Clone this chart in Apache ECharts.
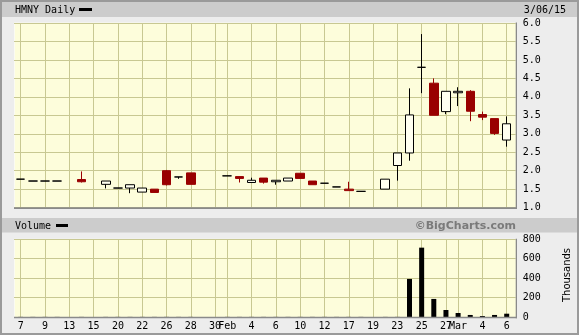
<!DOCTYPE html>
<html><head><meta charset="utf-8">
<script src="https://cdn.jsdelivr.net/npm/echarts@6/dist/echarts.min.js"></script>
<style>html,body{margin:0;padding:0;background:#ededed;}#c{width:579px;height:335px;}</style>
</head><body><div id="c"></div>
<script>
// ---- data ----
const dates = ['1/7','1/8','1/9','1/12','1/13','1/14','1/15','1/16','1/20','1/21','1/22','1/23','1/26','1/27','1/28','1/29','1/30',
  '2/2','2/3','2/4','2/5','2/6','2/9','2/10','2/11','2/12','2/13','2/17','2/18','2/19','2/20','2/23','2/24','2/25','2/26','2/27',
  '3/2','3/3','3/4','3/5','3/6'];
const tickLabels = ['7','','9','','13','','15','','20','','22','','26','','28','','30','Feb','','4','','6','','10','','12','','17','','19','','23','','25','','27','Mar','','4','','6'];
const opens  = [1.77,1.72,1.72,1.72,null,1.76,null,1.63,1.53,1.53,1.42,1.50,2.00,1.83,1.94,null,null,1.86,1.84,1.68,1.80,1.70,1.72,1.93,1.72,1.66,1.56,1.50,1.44,null,1.50,2.14,2.48,4.80,4.37,3.60,4.11,4.15,3.52,3.41,2.83];
const closes = [1.77,1.72,1.72,1.72,null,1.70,null,1.72,1.53,1.62,1.53,1.41,1.62,1.83,1.63,null,null,1.86,1.79,1.74,1.69,1.74,1.80,1.79,1.62,1.66,1.56,1.46,1.44,null,1.77,2.48,3.51,4.80,3.50,4.15,4.15,3.61,3.45,3.01,3.27];
const lows   = [1.77,1.72,1.72,1.72,null,1.68,null,1.52,1.53,1.39,1.42,1.41,1.60,1.78,1.63,null,null,1.86,1.68,1.68,1.65,1.62,1.72,1.79,1.62,1.66,1.56,1.46,1.44,null,1.50,1.73,2.27,4.10,3.50,3.53,3.75,3.34,3.37,2.97,2.65];
const highs  = [1.77,1.72,1.72,1.72,null,1.98,null,1.72,1.53,1.62,1.53,1.50,2.02,1.83,1.94,null,null,1.86,1.84,1.81,1.80,1.74,1.80,1.93,1.72,1.66,1.56,1.70,1.44,null,1.77,2.48,4.23,5.70,4.50,4.15,4.26,4.18,3.60,3.41,3.47];
const volumes = [1,1,1,1,0,1,0,1,1,1,1,1,1,1,1,0,0,1,1,1,1,1,1,1,1,1,1,1,1,0,1,1,392,714,186,72,41,21,10,21,34];
const priceRange = [1, 6, 0.5];
const volumeRange = [0, 800, 200];

// ---- style ----
const FONT = '"DejaVu Sans Mono", monospace';
const GRID = '#c8c892';
const PLOT = '#fdfddb';
const showTick = (i) => tickLabels[i] !== '';

const candleData = dates.map((d, i) => opens[i] == null ? ['-','-','-','-'] : [opens[i], closes[i], lows[i], highs[i]]);

const chart = echarts.init(document.getElementById('c'), null, {renderer: 'canvas'});
const labelStyle = {fontFamily: FONT, fontSize: 10, color: '#000'};

chart.setOption({
  animation: false,
  backgroundColor: '#ededed',
  grid: [
    {left: 14, top: 23, width: 501.7, height: 184.6},
    {left: 20.7, top: 23, width: 486, height: 184.6},
    {left: 14, top: 239.3, width: 501.7, height: 77.7},
    {left: 20.7, top: 239.3, width: 486, height: 77.7}
  ],
  xAxis: [
    {gridIndex: 0, type: 'value', show: false, min: 0, max: 1},
    {gridIndex: 1, type: 'category', data: dates, boundaryGap: false,
     axisLine: {show: false}, axisTick: {show: false}, axisLabel: {show: false},
     splitLine: {show: true, interval: showTick, lineStyle: {color: GRID, width: 1}}},
    {gridIndex: 2, type: 'value', show: false, min: 0, max: 1},
    {gridIndex: 3, type: 'category', data: dates, boundaryGap: false,
     axisLine: {show: false}, axisTick: {show: false},
     axisLabel: Object.assign({interval: showTick, formatter: (v, i) => tickLabels[i], margin: 4, hideOverlap: false}, labelStyle),
     splitLine: {show: true, interval: showTick, lineStyle: {color: GRID, width: 1}}}
  ],
  yAxis: [
    {gridIndex: 0, type: 'value', position: 'right', min: priceRange[0], max: priceRange[1], interval: priceRange[2],
     axisLine: {show: false}, axisTick: {show: false},
     axisLabel: Object.assign({margin: 7, formatter: v => v.toFixed(1)}, labelStyle),
     splitLine: {show: true, lineStyle: {color: GRID, width: 1}}},
    {gridIndex: 1, type: 'value', show: false, min: priceRange[0], max: priceRange[1], splitLine: {show: false}},
    {gridIndex: 2, type: 'value', position: 'right', min: volumeRange[0], max: volumeRange[1], interval: volumeRange[2],
     axisLine: {show: false}, axisTick: {show: false},
     axisLabel: Object.assign({margin: 7}, labelStyle),
     splitLine: {show: true, lineStyle: {color: GRID, width: 1}}},
    {gridIndex: 3, type: 'value', show: false, min: volumeRange[0], max: volumeRange[1], splitLine: {show: false}}
  ],
  series: [
    {type: 'candlestick', xAxisIndex: 1, yAxisIndex: 1, barWidth: 9, clip: false,
     itemStyle: {color: '#fffff0', color0: '#990000', borderColor: '#000000', borderColor0: '#990000', borderColorDoji: '#000000', borderWidth: 1},
     data: candleData},
    {type: 'bar', xAxisIndex: 3, yAxisIndex: 3, barWidth: 5, clip: false,
     itemStyle: {color: '#000'}, data: volumes}
  ],
  graphic: [
    {type: 'rect', z: -30, shape: {x: 0, y: 0, width: 579, height: 335}, style: {fill: '#9a9a9a'}},
    {type: 'rect', z: -29, shape: {x: 2, y: 2, width: 575, height: 331}, style: {fill: '#ededed'}},
    {type: 'rect', z: -28, shape: {x: 2, y: 2, width: 575, height: 15}, style: {fill: '#cccccc'}},
    {type: 'rect', z: -28, shape: {x: 2, y: 218, width: 575, height: 14.5}, style: {fill: '#cccccc'}},
    {type: 'rect', z: -27, shape: {x: 14, y: 22.5, width: 502, height: 185.5}, style: {fill: '#fbfbf2'}},
    {type: 'rect', z: -26, shape: {x: 15, y: 23.5, width: 501, height: 184.5}, style: {fill: PLOT}},
    {type: 'rect', z: -27, shape: {x: 14, y: 238.8, width: 502, height: 78.5}, style: {fill: '#fbfbf2'}},
    {type: 'rect', z: -26, shape: {x: 15, y: 239.8, width: 501, height: 77.5}, style: {fill: PLOT}},
    {type: 'rect', z: 50, shape: {x: 14, y: 207.3, width: 503, height: 1.7}, style: {fill: '#8a8a8a'}},
    {type: 'rect', z: 50, shape: {x: 515.7, y: 22.5, width: 1.3, height: 186.5}, style: {fill: '#8a8a8a'}},
    {type: 'rect', z: 50, shape: {x: 14, y: 316.7, width: 503, height: 1.6}, style: {fill: '#8a8a8a'}},
    {type: 'rect', z: 50, shape: {x: 515.7, y: 238.8, width: 1.3, height: 79.5}, style: {fill: '#8a8a8a'}},
    {type: 'text', z: 50, style: {text: 'HMNY Daily', x: 15, y: 10, font: '10px ' + FONT, fill: '#000', align: 'left', verticalAlign: 'middle', textAlign: 'left', textVerticalAlign: 'middle'}},
    {type: 'rect', z: 50, shape: {x: 79, y: 8, width: 13, height: 3}, style: {fill: '#000'}},
    {type: 'text', z: 50, style: {text: '3/06/15', x: 566, y: 10, font: '10px ' + FONT, fill: '#000', align: 'right', verticalAlign: 'middle', textAlign: 'right', textVerticalAlign: 'middle'}},
    {type: 'text', z: 50, style: {text: 'Volume', x: 15, y: 226, font: '10px ' + FONT, fill: '#000', align: 'left', verticalAlign: 'middle', textAlign: 'left', textVerticalAlign: 'middle'}},
    {type: 'rect', z: 50, shape: {x: 56, y: 224, width: 12, height: 3}, style: {fill: '#000'}},
    {type: 'text', z: 50, style: {text: '©BigCharts.com', x: 516, y: 225.7, font: 'bold 11px "DejaVu Sans", sans-serif', fill: '#7a7a7a', align: 'right', verticalAlign: 'middle', textAlign: 'right', textVerticalAlign: 'middle'}},
    {type: 'text', z: 50, x: 567.5, y: 275, rotation: Math.PI / 2, style: {text: 'Thousands', x: 0, y: 0, font: '10px "DejaVu Sans", sans-serif', fill: '#000', align: 'center', verticalAlign: 'middle', textAlign: 'center', textVerticalAlign: 'middle'}}
  ]
});
</script></body></html>
